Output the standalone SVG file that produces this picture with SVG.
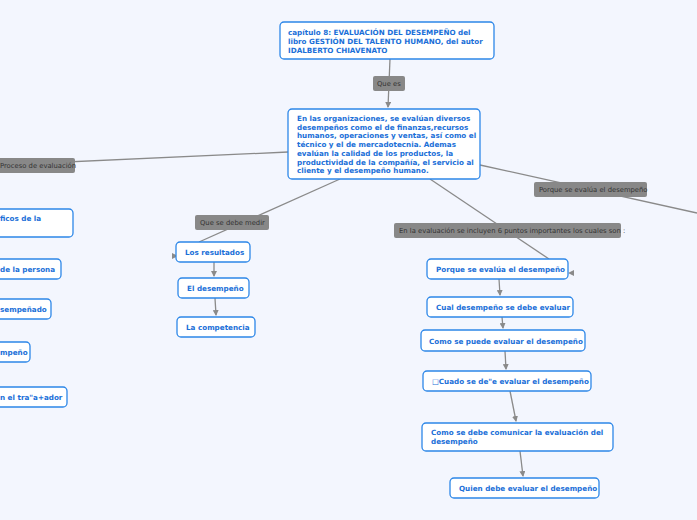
<svg xmlns="http://www.w3.org/2000/svg" width="697" height="520" viewBox="0 0 697 520">
<style>
.n{fill:#fff;stroke:#2d87e8;stroke-width:1.3}
.t{font-family:"DejaVu Sans",sans-serif;font-weight:bold;font-size:7.2px;fill:#1a6fd8}
.l{fill:#888;}
.lt{font-family:"DejaVu Sans",sans-serif;font-size:6.8px;fill:#333}
.c{stroke:#8a8a8a;stroke-width:1.3;fill:none}
</style>
<defs><marker id="a" markerWidth="6" markerHeight="6" refX="5" refY="3" orient="auto" markerUnits="userSpaceOnUse"><path d="M0,0L6,3L0,6z" fill="#8a8a8a"/></marker></defs>
<rect width="697" height="520" fill="#f3f6fe"/>
<g id="connectors">
<path class="c" d="M390,59L388,107" marker-end="url(#a)"/>
<path class="c" d="M288,152L0,165"/>
<path class="c" d="M340,179L199,242"/>
<path class="c" d="M430,179L549,259"/>
<path class="c" d="M480,165L697,213"/>
<path class="c" d="M214,262L214,276" marker-end="url(#a)"/>
<path class="c" d="M215,298L216,315" marker-end="url(#a)"/>
<path class="c" d="M499,279L500,295" marker-end="url(#a)"/>
<path class="c" d="M502,317L503,328" marker-end="url(#a)"/>
<path class="c" d="M505,351L506,369" marker-end="url(#a)"/>
<path class="c" d="M510,391L516,421" marker-end="url(#a)"/>
<path class="c" d="M520,451L523,476" marker-end="url(#a)"/>
<path d="M172,253L178,256L172,259z" fill="#8a8a8a"/>
<path d="M568,273L574,270L574,276z" fill="#8a8a8a"/>
</g>
<g id="top"><rect class="n" x="280" y="22" width="214" height="37" rx="4"/>
<text class="t" x="288" y="35">capítulo 8: EVALUACIÓN DEL DESEMPEÑO del</text>
<text class="t" x="288" y="44">libro GESTIÓN DEL TALENTO HUMANO, del autor</text>
<text class="t" x="288" y="53">IDALBERTO CHIAVENATO</text></g>
<g id="lbl-quees"><rect class="l" x="373" y="76" width="32" height="15" rx="2"/><text class="lt" x="377" y="86">Que es</text></g>
<g id="main"><rect class="n" x="288" y="109" width="192" height="70" rx="4"/>
<text class="t" x="297" y="121">En las organizaciones, se evalúan diversos</text>
<text class="t" x="297" y="129.7">desempeños como el de finanzas,recursos</text>
<text class="t" x="297" y="138.4">humanos, operaciones y ventas, así como el</text>
<text class="t" x="297" y="147.1">técnico y el de mercadotecnia. Ademas</text>
<text class="t" x="297" y="155.8">evalúan la calidad de los productos, la</text>
<text class="t" x="297" y="164.5">productividad de la compañía, el servicio al</text>
<text class="t" x="297" y="173.2">cliente y el desempeño humano.</text></g>
<g id="lbl-proceso"><rect class="l" x="-5" y="158" width="80" height="15" rx="2"/><text class="lt" x="0" y="168">Proceso de evaluación</text></g>
<g id="lbl-medir"><rect class="l" x="195" y="215" width="74" height="15" rx="2"/><text class="lt" x="200" y="225">Que se debe medir</text></g>
<g id="lbl-puntos"><rect class="l" x="394" y="223" width="227" height="15" rx="2"/><text class="lt" x="399" y="233">En la evaluación se incluyen 6 puntos importantes los cuales son :</text></g>
<g id="lbl-porque"><rect class="l" x="534" y="182" width="113" height="15" rx="2"/><text class="lt" x="539" y="192">Porque se evalúa el desempeño</text></g>
<g id="n1"><rect class="n" x="-10" y="209" width="83" height="28" rx="4"/><text class="t" x="0" y="221">ficos de la</text></g>
<g id="n2"><rect class="n" x="-10" y="259" width="71" height="20" rx="4"/><text class="t" x="0" y="272">de la persona</text></g>
<g id="n3"><rect class="n" x="-10" y="299" width="61" height="20" rx="4"/><text class="t" x="0" y="312">sempeñado</text></g>
<g id="n4"><rect class="n" x="-10" y="342" width="40" height="20" rx="4"/><text class="t" x="0" y="355">mpeño</text></g>
<g id="n5"><rect class="n" x="-10" y="387" width="77" height="20" rx="4"/><text class="t" x="0" y="400">n el tra"a+ador</text></g>
<g id="res"><rect class="n" x="176" y="242" width="74" height="20" rx="4"/><text class="t" x="185" y="255">Los resultados</text></g>
<g id="des"><rect class="n" x="178" y="278" width="71" height="20" rx="4"/><text class="t" x="187" y="291">El desempeño</text></g>
<g id="comp"><rect class="n" x="177" y="317" width="78" height="20" rx="4"/><text class="t" x="186" y="330">La competencia</text></g>
<g id="p1"><rect class="n" x="427" y="259" width="141" height="20" rx="4"/><text class="t" x="436" y="272">Porque se evalúa el desempeño</text></g>
<g id="p2"><rect class="n" x="427" y="297" width="146" height="20" rx="4"/><text class="t" x="436" y="310">Cual desempeño se debe evaluar</text></g>
<g id="p3"><rect class="n" x="421" y="330" width="164" height="21" rx="4"/><text class="t" x="429" y="344">Como se puede evaluar el desempeño</text></g>
<g id="p4"><rect class="n" x="423" y="371" width="168" height="20" rx="4"/><text class="t" x="432" y="384">□Cuado se de"e evaluar el desempeño</text></g>
<g id="p5"><rect class="n" x="422" y="423" width="191" height="28" rx="4"/><text class="t" x="431" y="435">Como se debe comunicar la evaluación del</text><text class="t" x="431" y="444">desempeño</text></g>
<g id="p6"><rect class="n" x="450" y="478" width="149" height="20" rx="4"/><text class="t" x="459" y="491">Quien debe evaluar el desempeño</text></g>
</svg>
